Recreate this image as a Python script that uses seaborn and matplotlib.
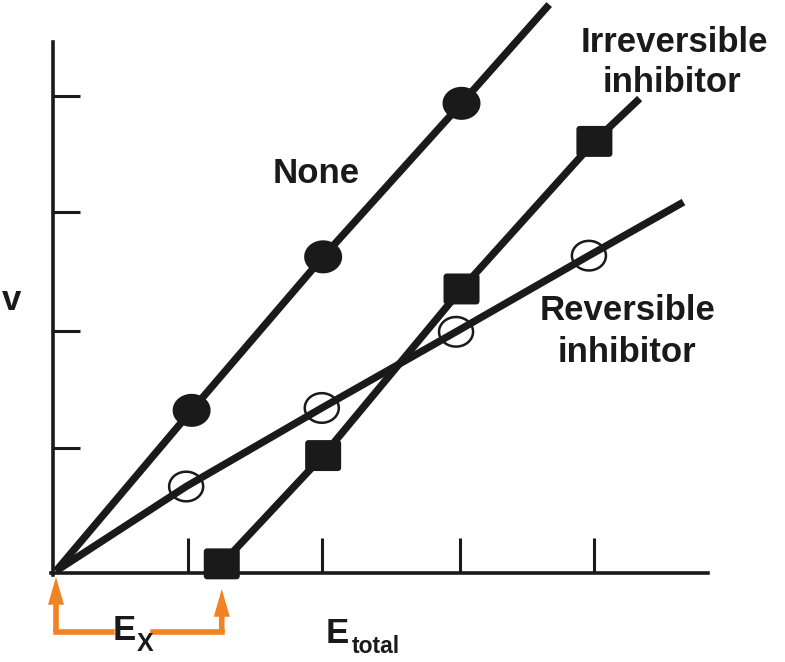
import numpy as np
import pandas as pd
import matplotlib
matplotlib.use("Agg")
import matplotlib.pyplot as plt
import seaborn as sns
from matplotlib.path import Path

# ---------------- data ----------------
none_E = [0.0, 0.99, 1.95, 2.96, 3.60]
none_v = [0.0, 1.35, 2.64, 3.93, 4.76]
none_pts = [1, 2, 3]            # indices that carry a marker

rev_E = [0.0, 0.95, 1.94, 2.92, 3.89, 4.58]
rev_v = [0.0, 0.71, 1.37, 2.01, 2.65, 3.10]
rev_pts = [1, 2, 3, 4]

irr_E = [1.21, 1.95, 2.96, 3.93, 4.26]
irr_v = [0.06, 0.97, 2.37, 3.61, 3.97]
irr_pts = [0, 1, 2, 3]

x_ticks = [0.96, 1.94, 2.95, 3.93]
y_ticks = [1.03, 2.02, 3.02, 3.99]

# ---------------- style ----------------
sns.set_style("ticks")
plt.rcParams["font.family"] = ["Liberation Sans", "DejaVu Sans"]
plt.rcParams["font.weight"] = "bold"

DARK = "#1a1a1a"
ORANGE = "#F28322"
W, H = 785, 662
X0, Y0 = 56, 571          # pixel position of the data origin
UX, UY = 137, 119         # pixels per data unit

fig = plt.figure(figsize=(W / 100, H / 100), dpi=100)
ax = fig.add_axes([X0 / W, (H - Y0) / H, (W - X0) / W, Y0 / H])
ax.set_xlim(0, (W - X0) / UX)
ax.set_ylim(0, Y0 / UY)


def px2x(px):
    return (px - X0) / UX


def px2y(py):
    return (Y0 - py) / UY


# marker shapes
t = np.linspace(0, 2 * np.pi, 80)
ellipse = Path(np.c_[np.cos(t), 0.87 * np.sin(t)], closed=True)


def rounded_rect(hw=1.0, hh=0.86, r=0.18, n=8):
    verts = []
    corners = [(hw - r, hh - r, 0), (-hw + r, hh - r, 90),
               (-hw + r, -hh + r, 180), (hw - r, -hh + r, 270)]
    for cx, cy, a0 in corners:
        for a in np.linspace(np.radians(a0), np.radians(a0 + 90), n):
            verts.append((cx + r * np.cos(a), cy + r * np.sin(a)))
    verts.append(verts[0])
    return Path(verts, closed=True)


square = rounded_rect()

series = [
    ("None", none_E, none_v, none_pts),
    ("Reversible", rev_E, rev_v, rev_pts),
    ("Irreversible", irr_E, irr_v, irr_pts),
]

for name, E, v, pts in series:
    df = pd.DataFrame({"E": E, "v": v})
    sns.lineplot(data=df, x="E", y="v", sort=False, estimator=None,
                 color=DARK, lw=5.3, solid_capstyle="butt", ax=ax,
                 zorder=2, clip_on=False)

for name, E, v, pts in series:
    mdf = pd.DataFrame({"E": [E[i] for i in pts], "v": [v[i] for i in pts]})
    if name == "None":
        sns.scatterplot(data=mdf, x="E", y="v", marker=ellipse, s=748,
                        color=DARK, edgecolor="none", linewidth=0,
                        zorder=3, ax=ax, clip_on=False)
    elif name == "Irreversible":
        sns.scatterplot(data=mdf, x="E", y="v", marker=square, s=672,
                        color=DARK, edgecolor="none", linewidth=0,
                        zorder=3, ax=ax, clip_on=False)
    else:
        sns.scatterplot(data=mdf, x="E", y="v", marker=ellipse, s=600,
                        color=DARK, facecolor="none", edgecolor=DARK,
                        linewidth=1.8, zorder=3, ax=ax, clip_on=False)

# axes look
for side in ("top", "right"):
    ax.spines[side].set_visible(False)
ax.spines["left"].set_position(("outward", 2.5))
ax.spines["bottom"].set_position(("outward", 1.5))
ax.spines["left"].set_bounds(-0.03, px2y(42))
ax.spines["bottom"].set_bounds(-0.04, px2x(708))
for side in ("left", "bottom"):
    ax.spines[side].set_linewidth(2.6)
    ax.spines[side].set_color(DARK)
ax.set_xticks(x_ticks)
ax.set_yticks(y_ticks)
ax.set_xticklabels([])
ax.set_yticklabels([])
ax.tick_params(axis="x", direction="in", length=25, width=2.2, color=DARK)
ax.tick_params(axis="y", direction="in", length=19.5, width=2.2, color=DARK)
ax.set_xlabel("")
ax.set_ylabel("")
ax.patch.set_alpha(0)


def ftext(px, py, s, size=25, ha="center"):
    fig.text(px / W, 1 - py / H, s, ha=ha, va="baseline", fontsize=size,
             fontweight="bold", color=DARK)


ftext(316, 183, "None")
ftext(674, 52, "Irreversible")
ftext(672, 92, "inhibitor")
ftext(628, 320, "Reversible")
ftext(627, 362, "inhibitor")
ftext(12, 310, "v")
ftext(113, 640, "E", ha="left")
ftext(137, 651, "X", size=18, ha="left")
ftext(326, 643, "E", ha="left")
ftext(352, 653, "total", size=16.5, ha="left")

# orange E_X bracket
Ex = irr_E[0]
yb = px2y(632)
ax.plot([0, px2x(112)], [yb, yb], color=ORANGE, lw=4, clip_on=False,
        solid_capstyle="projecting", zorder=1)
ax.plot([px2x(153), Ex], [yb, yb], color=ORANGE, lw=4, clip_on=False,
        solid_capstyle="projecting", zorder=1)
arrow = "simple,head_length=20,head_width=11.5,tail_width=4"
ax.annotate("", xy=(0, px2y(577)), xytext=(0, yb), annotation_clip=False,
            arrowprops=dict(arrowstyle=arrow, mutation_scale=1, fc=ORANGE,
                            ec="none", lw=0, shrinkA=0, shrinkB=0))
ax.annotate("", xy=(Ex, px2y(589)), xytext=(Ex, yb), annotation_clip=False,
            arrowprops=dict(arrowstyle=arrow, mutation_scale=1, fc=ORANGE,
                            ec="none", lw=0, shrinkA=0, shrinkB=0))

fig.savefig("out.png", dpi=100)
